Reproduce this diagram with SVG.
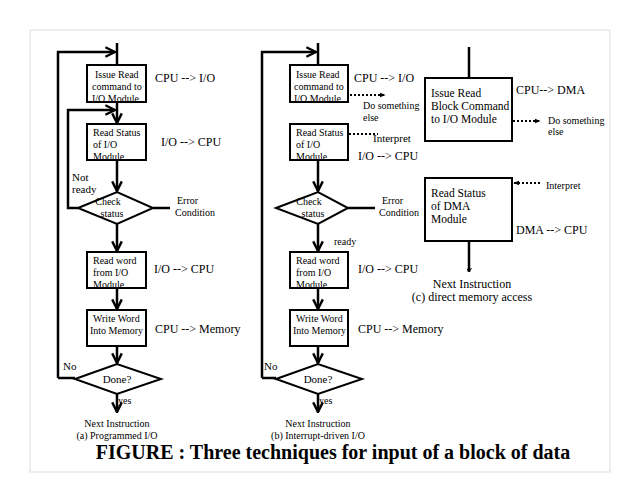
<svg xmlns="http://www.w3.org/2000/svg" width="638" height="493" viewBox="0 0 638 493">
<defs>
<marker id="a" viewBox="0 0 10 10" refX="9" refY="5" markerWidth="5" markerHeight="5" orient="auto" markerUnits="userSpaceOnUse"><path d="M1,0 L9,5 L1,10" fill="none" stroke="#000" stroke-width="2"/></marker>
<marker id="A" viewBox="0 0 10 10" refX="9" refY="5" markerWidth="12" markerHeight="12" orient="auto" markerUnits="userSpaceOnUse"><path d="M1,1 L9,5 L1,9" fill="none" stroke="#000" stroke-width="2"/></marker>
<marker id="d" viewBox="0 0 10 10" refX="9" refY="5" markerWidth="6" markerHeight="6" orient="auto" markerUnits="userSpaceOnUse"><path d="M0,1 L10,5 L0,9z" fill="#000"/></marker>
</defs>
<style>
text{font-family:"Liberation Serif","Times New Roman",serif;fill:#000}
.s{font-size:10px}.m{font-size:12px}.l{font-size:11px}.k{font-size:11.5px}
.b{fill:#fff;stroke:#000;stroke-width:2}
.c{fill:none;stroke:#000;stroke-width:2.5}
.dt{fill:none;stroke:#000;stroke-width:2;stroke-dasharray:2,2}
.t{font-size:20px;font-weight:bold}
</style>
<rect x="0" y="0" width="638" height="493" fill="#fff"/>
<rect x="30" y="30" width="580" height="442" fill="none" stroke="#ddd" stroke-width="1"/>
<g id="connectors">
<path class="c" d="M117,43 V65"/><path class="c" d="M58,378 V52 H115" marker-end="url(#A)"/>
<path class="c" d="M117,102 V123" marker-end="url(#A)"/><path class="c" d="M78,208 H68 V110 H115" marker-end="url(#A)"/>
<path class="c" d="M117,160 V191" marker-end="url(#A)"/><path class="c" d="M153,208 H170"/>
<path class="c" d="M117,224 V251" marker-end="url(#A)"/><path class="c" d="M117,288 V309" marker-end="url(#A)"/>
<path class="c" d="M117,346 V363" marker-end="url(#A)"/><path class="c" d="M58,378 H75"/>
<path class="c" d="M117,394 V412" marker-end="url(#A)"/>
<path class="c" d="M318,43 V65"/><path class="c" d="M262,378 V52 H316" marker-end="url(#A)"/>
<path class="c" d="M318,160 V191" marker-end="url(#A)"/><path class="c" d="M348,208 H375"/>
<path class="c" d="M318,224 V251" marker-end="url(#A)"/><path class="c" d="M318,288 V309" marker-end="url(#A)"/>
<path class="c" d="M318,346 V363" marker-end="url(#A)"/><path class="c" d="M262,378 H276"/>
<path class="c" d="M318,394 V412" marker-end="url(#A)"/>
<path class="dt" d="M350,95 H385" marker-end="url(#d)"/><path class="dt" d="M349,134 H378"/>
<path class="c" d="M469,47 V78"/><path class="c" d="M469,241 V272" marker-end="url(#a)"/>
<path class="dt" d="M513,121 H540" marker-end="url(#d)"/><path class="dt" d="M540,183 H514" marker-end="url(#d)"/>
</g>
<g id="a1"><rect class="b" x="87" y="65" width="59" height="37"/><text class="s" x="95" y="78">Issue Read</text><text class="s" x="92" y="90">command to</text><text class="s" x="92" y="102">I/O Module</text></g>
<g id="a2"><rect class="b" x="87" y="124" width="59" height="36"/><text class="s" x="93" y="136">Read Status</text><text class="s" x="93" y="148">of I/O</text><text class="s" x="93" y="160">Module</text></g>
<g id="a3"><path class="b" d="M78,208 L117,192 L153,208 L117,224z"/><text class="s" x="108" y="205" text-anchor="middle">Check</text><text class="s" x="112" y="217" text-anchor="middle">status</text></g>
<g id="a4"><rect class="b" x="87" y="252" width="59" height="36"/><text class="s" x="93" y="264">Read word</text><text class="s" x="93" y="276">from I/O</text><text class="s" x="93" y="288">Module</text></g>
<g id="a5"><rect class="b" x="87" y="310" width="59" height="36"/><text class="s" x="93" y="322">Write Word</text><text class="s" x="90" y="334">Into Memory</text></g>
<g id="a6"><path class="b" d="M75,379 L117,364 L161,379 L117,394z"/><text class="l" x="117" y="383" text-anchor="middle">Done?</text></g>
<g id="b1"><rect class="b" x="290" y="65" width="58" height="37"/><text class="s" x="296" y="78">Issue Read</text><text class="s" x="294" y="90">command to</text><text class="s" x="294" y="102">I/O Module</text></g>
<g id="b2"><rect class="b" x="290" y="124" width="58" height="36"/><text class="s" x="296" y="136">Read Status</text><text class="s" x="296" y="148">of I/O</text><text class="s" x="296" y="160">Module</text></g>
<g id="b3"><path class="b" d="M276,208 L318,192 L348,208 L318,224z"/><text class="s" x="309" y="205" text-anchor="middle">Check</text><text class="s" x="313" y="217" text-anchor="middle">status</text></g>
<g id="b4"><rect class="b" x="290" y="252" width="58" height="36"/><text class="s" x="296" y="264">Read word</text><text class="s" x="296" y="276">from I/O</text><text class="s" x="296" y="288">Module</text></g>
<g id="b5"><rect class="b" x="290" y="310" width="58" height="36"/><text class="s" x="296" y="322">Write Word</text><text class="s" x="293" y="334">Into Memory</text></g>
<g id="b6"><path class="b" d="M276,379 L318,364 L362,379 L318,394z"/><text class="l" x="318" y="383" text-anchor="middle">Done?</text></g>
<g id="c1"><rect class="b" x="425" y="78" width="87" height="63"/><text class="k" x="431" y="97">Issue Read</text><text class="k" x="431" y="110">Block Command</text><text class="k" x="431" y="123">to I/O Module</text></g>
<g id="c2"><rect class="b" x="425" y="178" width="87" height="63"/><text class="k" x="431" y="197">Read Status</text><text class="k" x="431" y="210">of DMA</text><text class="k" x="431" y="223">Module</text></g>
<g id="labels">
<text class="m" x="155" y="82">CPU --&gt; I/O</text><text class="m" x="161" y="146">I/O --&gt; CPU</text>
<text class="l" x="72" y="181">Not</text><text class="l" x="72" y="193">ready</text>
<text class="s" x="177" y="204">Error</text><text class="s" x="175" y="216">Condition</text>
<text class="m" x="154" y="273">I/O --&gt; CPU</text><text class="m" x="155" y="333">CPU --&gt; Memory</text>
<text class="l" x="63" y="370">No</text><text class="s" x="118" y="404">yes</text>
<text class="s" x="117" y="427" text-anchor="middle">Next Instruction</text><text class="s" x="117" y="439" text-anchor="middle">(a) Programmed I/O</text>
<text class="m" x="354" y="82">CPU --&gt; I/O</text>
<text class="s" x="363" y="109">Do something</text><text class="s" x="363" y="121">else</text>
<text class="l" x="373" y="142">Interpret</text><text class="m" x="358" y="160">I/O --&gt; CPU</text>
<text class="s" x="382" y="204">Error</text><text class="s" x="379" y="216">Condition</text>
<text class="s" x="334" y="245">ready</text>
<text class="m" x="358" y="273">I/O --&gt; CPU</text><text class="m" x="358" y="333">CPU --&gt; Memory</text>
<text class="l" x="264" y="370">No</text><text class="s" x="319" y="404">yes</text>
<text class="s" x="318" y="427" text-anchor="middle">Next Instruction</text><text class="s" x="318" y="439" text-anchor="middle">(b) Interrupt-driven I/O</text>
<text class="m" x="516" y="94">CPU--&gt; DMA</text>
<text class="s" x="548" y="124">Do something</text><text class="s" x="548" y="135">else</text>
<text class="s" x="546" y="189">Interpret</text><text class="m" x="516" y="234">DMA --&gt; CPU</text>
<text class="m" x="472" y="288" text-anchor="middle">Next Instruction</text><text class="m" x="472" y="301" text-anchor="middle">(c) direct memory access</text>
<text class="t" x="333" y="459" text-anchor="middle">FIGURE : Three techniques for input of a block of data</text>
</g>
</svg>
